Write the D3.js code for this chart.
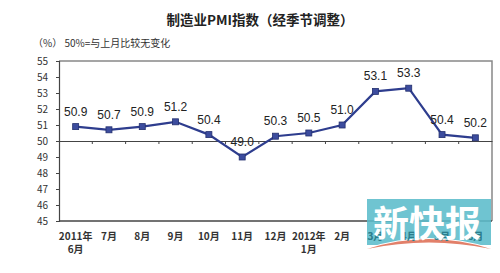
<!DOCTYPE html>
<html>
<head>
<meta charset="utf-8">
<script src="https://cdn.jsdelivr.net/npm/d3@7"></script>
<style>
  body { margin: 0; background: #fff; }
  svg text { font-family: "Noto Sans CJK SC", sans-serif; }
</style>
</head>
<body>
<svg width="500" height="273"></svg>
<script>
const months = ["2011年|6月", "7月", "8月", "9月", "10月", "11月", "12月", "2012年|1月", "2月", "3月", "4月", "5月", "6月"];
const pmi = [50.9, 50.7, 50.9, 51.2, 50.4, 49.0, 50.3, 50.5, 51.0, 53.1, 53.3, 50.4, 50.2];
const yTicks = [45, 46, 47, 48, 49, 50, 51, 52, 53, 54, 55];

const svg = d3.select("svg");
const plotL = 59, plotR = 492, plotT = 61, plotB = 221;

const x = d3.scaleBand().domain(months).range([plotL, plotR]);
const y = d3.scaleLinear().domain([45, 55]).range([plotB, plotT]);

// title
svg.append("text")
  .attr("x", 260).attr("y", 25)
  .attr("text-anchor", "middle")
  .style("font-size", "13.5px").style("font-weight", "bold").style("fill", "#222")
  .text("制造业PMI指数（经季节调整）");

svg.append("text")
  .attr("x", 33).attr("y", 47)
  .style("font-size", "10px").style("fill", "#333")
  .text("（%）  50%=与上月比较无变化");

// frame
svg.append("path")
  .attr("d", `M${plotL},${plotT}H${plotR}V${plotB}`)
  .attr("fill", "none").attr("stroke", "#888").attr("stroke-width", 1.5);

// y axis
const yAxis = svg.append("g")
  .attr("transform", `translate(${plotL},0)`)
  .call(d3.axisLeft(y).tickValues(yTicks).tickSize(3).tickPadding(8).tickFormat(d3.format("d")));
yAxis.select(".domain").attr("stroke", "#444").attr("stroke-width", 1.2);
yAxis.selectAll(".tick line").attr("stroke", "#444");
yAxis.selectAll(".tick text")
  .style("font-size", "10px").style("fill", "#333")
  .style("font-family", "'Noto Sans CJK SC', sans-serif");

// bottom line
svg.append("line")
  .attr("x1", plotL).attr("x2", plotR).attr("y1", plotB).attr("y2", plotB)
  .attr("stroke", "#444").attr("stroke-width", 1.5);

// category axis at 50
const xAxis = svg.append("g")
  .attr("transform", `translate(0,${y(50)})`)
  .call(d3.axisBottom(x).tickSize(0).tickFormat(""));
xAxis.select(".domain").attr("stroke", "#444").attr("stroke-width", 1.2);
svg.append("g").selectAll("line")
  .data(months.slice(1))
  .join("line")
    .attr("x1", d => x(d)).attr("x2", d => x(d))
    .attr("y1", y(50)).attr("y2", y(50) + 3)
    .attr("stroke", "#444");

// month labels
const lab = svg.append("g").selectAll("text")
  .data(months)
  .join("text")
    .attr("x", d => x(d) + x.bandwidth() / 2)
    .attr("y", 240)
    .attr("text-anchor", "middle")
    .style("font-size", "10px").style("font-weight", "bold").style("fill", "#333");
lab.each(function(d) {
  const parts = d.split("|");
  const t = d3.select(this);
  parts.forEach((p, i) => {
    t.append("tspan")
      .attr("x", x(d) + x.bandwidth() / 2)
      .attr("dy", i === 0 ? 0 : 13)
      .text(p);
  });
});

// line
const line = d3.line()
  .x((d, i) => x(months[i]) + x.bandwidth() / 2)
  .y(d => y(d));
svg.append("path")
  .datum(pmi)
  .attr("d", line)
  .attr("fill", "none").attr("stroke", "#2e3d8e").attr("stroke-width", 2.2);

svg.append("g").selectAll("rect")
  .data(pmi)
  .join("rect")
    .attr("x", (d, i) => x(months[i]) + x.bandwidth() / 2 - 3)
    .attr("y", d => y(d) - 3)
    .attr("width", 6).attr("height", 6)
    .attr("fill", "#3c4c9e").attr("stroke", "#24306e").attr("stroke-width", 0.8);

svg.append("g").selectAll("text")
  .data(pmi)
  .join("text")
    .attr("x", (d, i) => x(months[i]) + x.bandwidth() / 2)
    .attr("y", d => y(d) - 11)
    .attr("text-anchor", "middle")
    .style("font-family", "'Liberation Sans', Arial, sans-serif")
    .style("font-size", "12px").style("fill", "#222")
    .text(d => d.toFixed(1));

// watermark logo
const logo = svg.append("g");
logo.append("rect")
  .attr("x", 367).attr("y", 199).attr("width", 124).attr("height", 46)
  .attr("fill", "#5bbccb").attr("opacity", 0.88);
logo.append("path")
  .attr("d", "M367,248 Q429,228 491,248 L491,245 L367,245 Z")
  .attr("fill", "#fff");
logo.append("path")
  .attr("d", "M367,249 Q429,229 491,249 Q429,236 367,249 Z")
  .attr("fill", "#e2806a");
logo.selectAll("text.m")
  .data(months.slice(9))
  .join("text")
    .attr("class", "m")
    .attr("x", d => x(d) + x.bandwidth() / 2)
    .attr("y", 240)
    .attr("text-anchor", "middle")
    .style("font-size", "10px").style("font-weight", "bold").style("fill", "#2b7d8c")
    .text(d => d);
logo.append("text")
  .attr("x", 427).attr("y", 237)
  .attr("text-anchor", "middle")
  .style("font-family", "'Noto Sans CJK SC', serif")
  .style("font-size", "36px").style("font-weight", "bold").style("fill", "#fff")
  .text("新快报");
</script>
</body>
</html>
